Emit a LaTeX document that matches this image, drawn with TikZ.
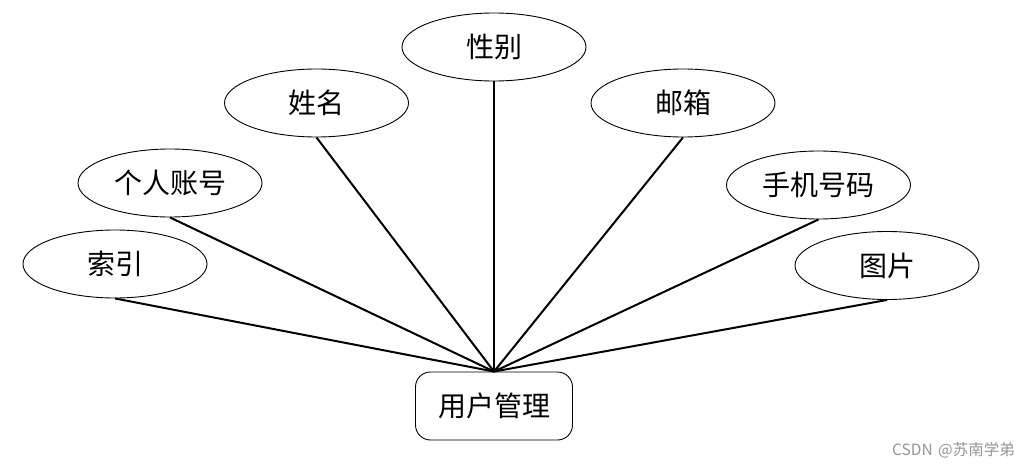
\documentclass[tikz,border=0pt]{standalone}
\usepackage{fontspec}
\newfontfamily\cjk{Noto Sans CJK SC}
\usetikzlibrary{shapes.geometric}
\begin{document}
\begin{tikzpicture}[x=1pt,y=-1pt,
  attr/.style={ellipse,draw=black,line width=0.9pt,minimum width=184pt,minimum height=68pt,inner sep=0pt,font=\cjk\fontsize{28}{28}\selectfont},
  ent/.style={rectangle,rounded corners=15pt,draw=black,line width=0.9pt,minimum width=157pt,minimum height=68pt,inner sep=0pt,font=\cjk\fontsize{28}{28}\selectfont},
  conn/.style={line width=2pt,black}]
\useasboundingbox (0,0) rectangle (1029,468);
\node[attr] (suoyin) at (115,264) {索引};
\node[attr] (zhanghao) at (170,183) {个人账号};
\node[attr] (xingming) at (316.5,103) {姓名};
\node[attr] (xingbie) at (494,47) {性别};
\node[attr] (youxiang) at (683,103) {邮箱};
\node[attr] (shouji) at (818.5,185) {手机号码};
\node[attr] (tupian) at (887,265.5) {图片};
\node[ent] (yonghu) at (494,406) {用户管理};
\foreach \n in {suoyin,zhanghao,xingming,xingbie,youxiang,shouji,tupian}
  \draw[conn] (\n.south) -- (yonghu.north);
\node[font=\cjk\fontsize{15.5}{15.5}\selectfont,text=black!42,anchor=east,inner sep=0pt] (wm) at (1015,450) {CSDN\hspace{0.35em}@苏南学弟};
\end{tikzpicture}
\end{document}
